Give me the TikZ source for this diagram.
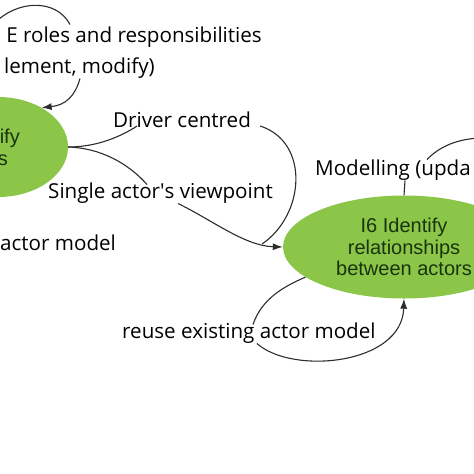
\documentclass[tikz,border=0pt]{standalone}
\usepackage{fontspec}
\setmainfont{Open Sans}
\newfontfamily\ellfont{Liberation Sans}
\usetikzlibrary{shapes.geometric,arrows.meta}
\definecolor{leaf}{RGB}{140,198,72}
\definecolor{leafdark}{RGB}{24,52,14}
\definecolor{wire}{RGB}{45,45,45}
\tikzset{
  ell/.style={ellipse,fill=leaf,inner sep=0pt,minimum width=242pt,minimum height=103pt,
    text=leafdark,align=center,font=\ellfont\fontsize{20}{21.5}\selectfont},
  lbl/.style={inner sep=0pt,font=\fontsize{20.6}{24}\selectfont,text=black},
  intxt/.style={inner sep=0pt,text=leafdark,font=\ellfont\fontsize{20}{21.5}\selectfont},
  conn/.style={wire,line width=1.1pt},
  arr/.style={conn,-{Latex[length=10pt,width=7pt]}}
}
\begin{document}
\begin{tikzpicture}[x=1pt,y=-1pt]
    \clip (0,0) rectangle (474,474);
    \fill[white] (0,0) rectangle (474,474);
    % the two activities
    \node[ell,minimum width=140pt,minimum height=100pt] (actors) at (-2,147) {};
    \node[intxt,anchor=east] (ify) at (20,138) {ify};
    \node[intxt,anchor=east] (ifys) at (8,160) {s};
    \node[ell] (rel) at (404,247) {I6 Identify\\relationships\\between actors};
    % labels
    \node[lbl,anchor=east] (roles) at (262,37) {E roles and responsibilities};
    \node[lbl,anchor=east] (modify) at (155,68) {lement, modify)};
    \node[lbl,anchor=west] (driver) at (113,120) {Driver centred};
    \node[lbl,anchor=west] (single) at (48,193) {Single actor\textquotesingle s viewpoint};
    \node[lbl,anchor=west] (model) at (0,243) {actor model};
    \node[lbl,anchor=west] (updt) at (315,170) {Modelling (upda};
    \node[lbl,anchor=west] (reuse) at (122,333) {reuse existing actor model};
    \coordinate (topin) at (-6,24);
    \coordinate (topout) at (480,138);
    \coordinate (join) at (262,244);
    % loop over the roles label
    \draw[conn] (topin) .. controls (16,0) and (56,-2) .. ([xshift=-192pt,yshift=2pt]roles.north east);
    \draw[arr] ([xshift=-75pt]modify.south east) .. controls (75,96) and (66,105) .. (actors.42);
    % driver centred / single viewpoint
    \draw[conn] (actors.east) .. controls (92,147) and (115,140) .. ([xshift=24pt,yshift=2pt]driver.south west);
    \draw[conn] ([xshift=9pt,yshift=-6pt]driver.east) .. controls (310,142) and (305,215) .. (join);
    \draw[conn] (actors.east) .. controls (100,148) and (128,163) .. ([xshift=99pt,yshift=-2pt]single.north west);
    \draw[arr] ([xshift=130pt]single.south west) .. controls (212,220) and (245,246) .. (rel.west);
    % modelling (update)
    \draw[conn] (rel.north) -- ([xshift=90pt]updt.south west);
    \draw[conn] ([xshift=112pt]updt.north west) .. controls (440,146) and (458,139) .. (topout);
    % reuse loop
    \draw[conn] (rel.197) .. controls (285,286) and (262,298) .. ([xshift=131pt,yshift=-2pt]reuse.north west);
    \draw[arr] ([xshift=135pt]reuse.south west) .. controls (292,375) and (402,365) .. (rel.south);
\end{tikzpicture}
\end{document}
